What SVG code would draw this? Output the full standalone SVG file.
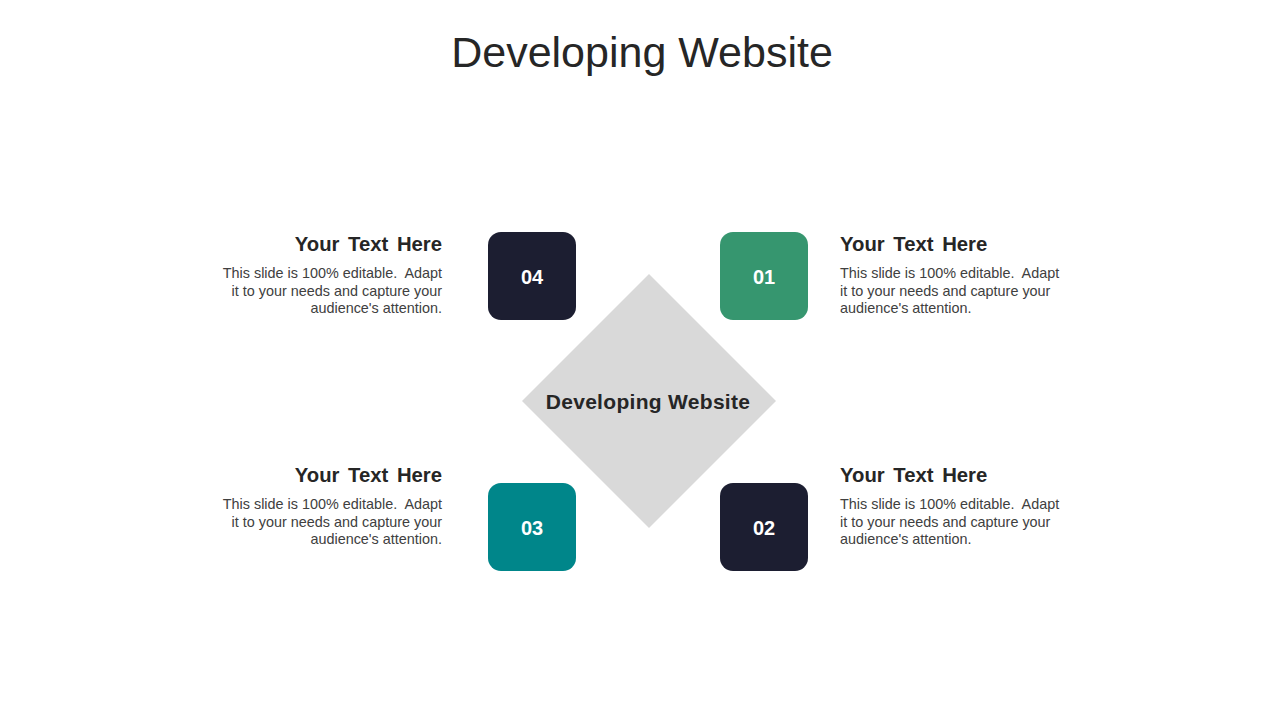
<svg xmlns="http://www.w3.org/2000/svg" width="1280" height="720" viewBox="0 0 1280 720" xml:space="preserve">
<style>
.title{font-family:"Liberation Sans",Arial,sans-serif;font-size:43px;fill:#262626}
.head{font-family:"Liberation Sans",Arial,sans-serif;font-size:20.3px;font-weight:bold;fill:#262626;word-spacing:3px}
.body{font-family:"Liberation Sans",Arial,sans-serif;font-size:14.4px;fill:#404040;white-space:pre}
.num{font-family:"Liberation Sans",Arial,sans-serif;font-size:20px;font-weight:bold;fill:#ffffff}
.center{font-family:"Liberation Sans",Arial,sans-serif;font-size:21px;font-weight:bold;fill:#262626;letter-spacing:0.3px}
.l{text-anchor:end}
.m{text-anchor:middle}
</style>
<rect width="1280" height="720" fill="#ffffff"/>
<text class="title m" x="642" y="67">Developing Website</text>
<g id="center">
<polygon points="649,274 776,401 649,528 522,401" fill="#D9D9D9"/>
<text class="center m" x="648" y="409">Developing Website</text>
</g>
<g id="connectors"></g>
<g id="node01">
<rect x="720" y="232" width="88" height="88" rx="13" fill="#36966F"/>
<text class="num m" x="764" y="284">01</text>
<text class="head" x="840" y="251">Your Text Here</text>
<text class="body" x="840" y="278">This slide is 100% editable.  Adapt</text>
<text class="body" x="840" y="296">it to your needs and capture your</text>
<text class="body" x="840" y="313">audience's attention.</text>
</g>
<g id="node02">
<rect x="720" y="483" width="88" height="88" rx="13" fill="#1C1E31"/>
<text class="num m" x="764" y="535">02</text>
<text class="head" x="840" y="482">Your Text Here</text>
<text class="body" x="840" y="509">This slide is 100% editable.  Adapt</text>
<text class="body" x="840" y="527">it to your needs and capture your</text>
<text class="body" x="840" y="544">audience's attention.</text>
</g>
<g id="node03">
<rect x="488" y="483" width="88" height="88" rx="13" fill="#00868A"/>
<text class="num m" x="532" y="535">03</text>
<text class="head l" x="442" y="482">Your Text Here</text>
<text class="body l" x="442" y="509">This slide is 100% editable.  Adapt</text>
<text class="body l" x="442" y="527">it to your needs and capture your</text>
<text class="body l" x="442" y="544">audience's attention.</text>
</g>
<g id="node04">
<rect x="488" y="232" width="88" height="88" rx="13" fill="#1C1E31"/>
<text class="num m" x="532" y="284">04</text>
<text class="head l" x="442" y="251">Your Text Here</text>
<text class="body l" x="442" y="278">This slide is 100% editable.  Adapt</text>
<text class="body l" x="442" y="296">it to your needs and capture your</text>
<text class="body l" x="442" y="313">audience's attention.</text>
</g>
</svg>
